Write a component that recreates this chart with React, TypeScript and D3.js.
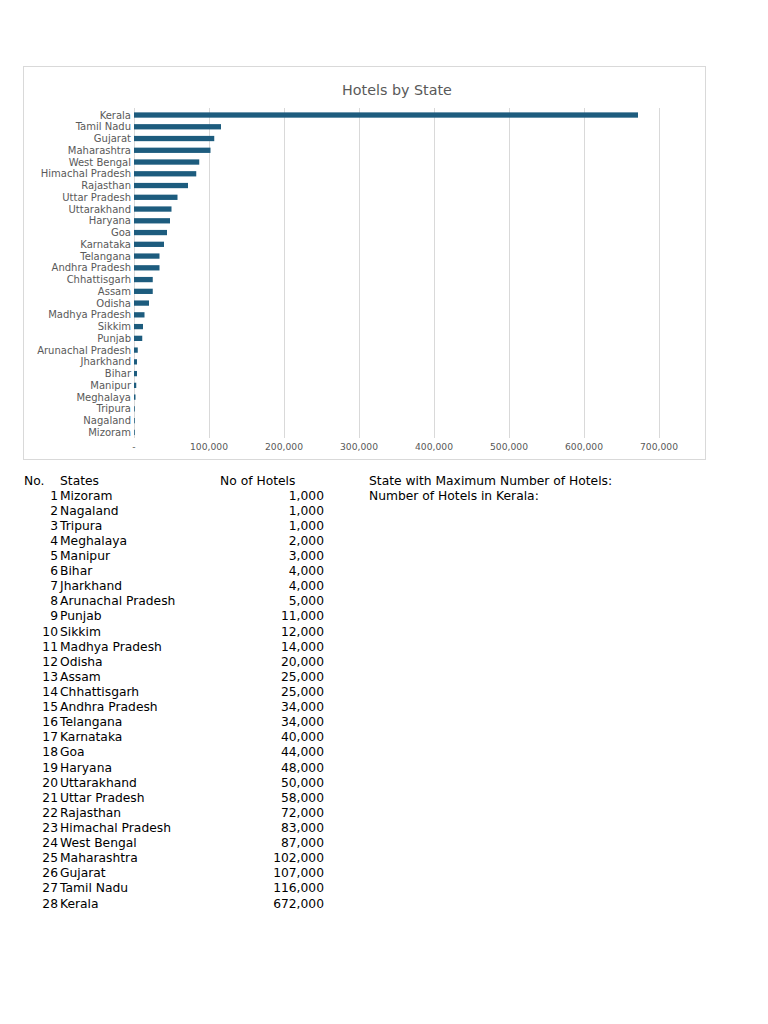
import React from "react";
import * as d3 from "d3";

const states = [
  "Mizoram", "Nagaland", "Tripura", "Meghalaya", "Manipur", "Bihar", "Jharkhand",
  "Arunachal Pradesh", "Punjab", "Sikkim", "Madhya Pradesh", "Odisha", "Assam",
  "Chhattisgarh", "Andhra Pradesh", "Telangana", "Karnataka", "Goa", "Haryana",
  "Uttarakhand", "Uttar Pradesh", "Rajasthan", "Himachal Pradesh", "West Bengal",
  "Maharashtra", "Gujarat", "Tamil Nadu", "Kerala",
];
const hotels = [
  1000, 1000, 1000, 2000, 3000, 4000, 4000, 5000, 11000, 12000, 14000, 20000,
  25000, 25000, 34000, 34000, 40000, 44000, 48000, 50000, 58000, 72000, 83000,
  87000, 102000, 107000, 116000, 672000,
];
const xTicks = [0, 100000, 200000, 300000, 400000, 500000, 600000, 700000];

const FONT = "'DejaVu Sans', sans-serif";
const BAR = "#1d5c7e";
const GRAY = "#595959";

export default function App() {
  const x = d3.scaleLinear().domain([0, 700000]).range([134, 659]);
  const order = [...states].reverse();
  const y = d3.scaleBand().domain(order).range([109.2, 438.2]).paddingInner(0.55).paddingOuter(0.27);
  const fmt = d3.format(",");
  const tickFmt = (v: number) => (v === 0 ? "-" : fmt(v));
  const rowY = d3.scaleLinear().domain([1, 28]).range([495, 903]);

  return (
    <svg width={768} height={1024} style={{ position: "absolute", left: 0, top: 0 }} fontFamily={FONT}>
      <rect x={0} y={0} width={768} height={1024} fill="#fff" />
      <rect x={23.5} y={66.5} width={682} height={393} fill="#fff" stroke="#d9d9d9" strokeWidth={1} />
      <text x={397} y={95} textAnchor="middle" fontSize={14.3} fill={GRAY}>Hotels by State</text>
      {xTicks.map((t) => (
        <g key={t}>
          {t > 0 && (
            <line x1={Math.round(x(t)) + 0.5} x2={Math.round(x(t)) + 0.5} y1={108} y2={438} stroke="#d9d9d9" strokeWidth={1} />
          )}
          <text x={x(t)} y={450} textAnchor="middle" fontSize={9.2} fill={GRAY}>{tickFmt(t)}</text>
        </g>
      ))}
      <line x1={134.5} x2={134.5} y1={108} y2={438} stroke="#d9d9d9" strokeWidth={1} />
      {order.map((s) => {
        const v = hotels[states.indexOf(s)];
        const yy = y(s)!;
        return (
          <g key={s}>
            <rect x={x(0)} y={yy} width={x(v) - x(0)} height={y.bandwidth()} fill={BAR} />
            <text x={131} y={yy + y.bandwidth() / 2} dy="0.35em" textAnchor="end" fontSize={10} fill={GRAY}>{s}</text>
          </g>
        );
      })}
      <g fontSize={12.3} fill="#000">
        <text x={24} y={484.5}>No.</text>
        <text x={60} y={484.5}>States</text>
        <text x={220} y={484.5}>No of Hotels</text>
        <text x={369} y={484.5}>State with Maximum Number of Hotels:</text>
        <text x={369} y={499.5}>Number of Hotels in Kerala:</text>
        {states.map((s, i) => {
          const yy = rowY(i + 1) + 4.5;
          return (
            <g key={s}>
              <text x={58} y={yy} textAnchor="end">{i + 1}</text>
              <text x={60} y={yy}>{s}</text>
              <text x={324} y={yy} textAnchor="end">{fmt(hotels[i])}</text>
            </g>
          );
        })}
      </g>
    </svg>
  );
}
